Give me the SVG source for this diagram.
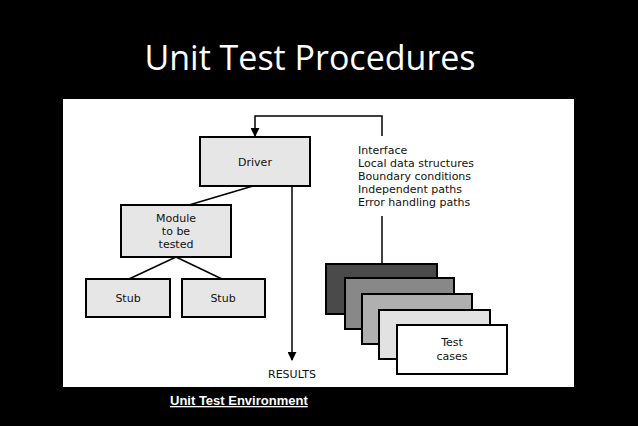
<svg xmlns="http://www.w3.org/2000/svg" width="638" height="426" viewBox="0 0 638 426">
<style>
.b{stroke:#000;stroke-width:2}
.g{fill:#e6e6e6}
.t{font-family:"DejaVu Sans",sans-serif;font-size:11px;fill:#111}
.c{text-anchor:middle}
.l{fill:none;stroke:#000;stroke-width:1.5}
</style>
<defs><marker id="a" viewBox="0 0 10 10" refX="9" refY="5" markerWidth="6" markerHeight="6" orient="auto"><path d="M0,0L10,5L0,10z" fill="#000"/></marker></defs>
<rect width="638" height="426" fill="#000"/>
<text x="310" y="70" font-family="'Open Sans',sans-serif" font-size="34" fill="#fff" text-anchor="middle">Unit Test Procedures</text>
<rect x="63" y="99" width="511" height="288" fill="#fff"/>
<g id="connectors">
<line class="l" x1="253" y1="186" x2="189" y2="205"/>
<line class="l" x1="176" y1="257" x2="129" y2="279"/>
<line class="l" x1="176" y1="257" x2="222" y2="279"/>
<line class="l" x1="292" y1="186" x2="292" y2="360" stroke-width="2" marker-end="url(#a)"/>
<line class="l" x1="382" y1="264" x2="382" y2="216"/>
<polyline class="l" points="382,136 382,116 255,116 255,136" marker-end="url(#a)"/>
</g>
<g id="driver"><rect class="b g" x="200" y="137" width="110" height="49"/><text class="t c" x="255" y="166">Driver</text></g>
<g id="module"><rect class="b g" x="121" y="205" width="110" height="52"/><text class="t c" x="176" y="222">Module</text><text class="t c" x="176" y="235">to be</text><text class="t c" x="176" y="248">tested</text></g>
<g id="stub1"><rect class="b g" x="86" y="279" width="84" height="38"/><text class="t c" x="128" y="302">Stub</text></g>
<g id="stub2"><rect class="b g" x="182" y="279" width="83" height="38"/><text class="t c" x="223" y="302">Stub</text></g>
<g id="results"><text class="t c" x="292" y="378">RESULTS</text></g>
<g id="aspects" class="t"><text x="358" y="154">Interface</text><text x="358" y="167">Local data structures</text><text x="358" y="180">Boundary conditions</text><text x="358" y="193">Independent paths</text><text x="358" y="206">Error handling paths</text></g>
<g id="testcases">
<rect class="b" x="326" y="264" width="111" height="50" fill="#4a4a4a"/>
<rect class="b" x="345" y="278" width="109" height="51" fill="#888"/>
<rect class="b" x="362" y="294" width="110" height="50" fill="#b0b0b0"/>
<rect class="b" x="379" y="310" width="111" height="49" fill="#e2e2e2"/>
<rect class="b" x="397" y="325" width="110" height="49" fill="#fff"/>
<text class="t c" x="452" y="346">Test</text><text class="t c" x="452" y="360">cases</text>
</g>
<text x="170" y="405" font-family="'Liberation Sans',sans-serif" font-size="13" font-weight="bold" fill="#fff" text-decoration="underline">Unit Test Environment</text>
</svg>
